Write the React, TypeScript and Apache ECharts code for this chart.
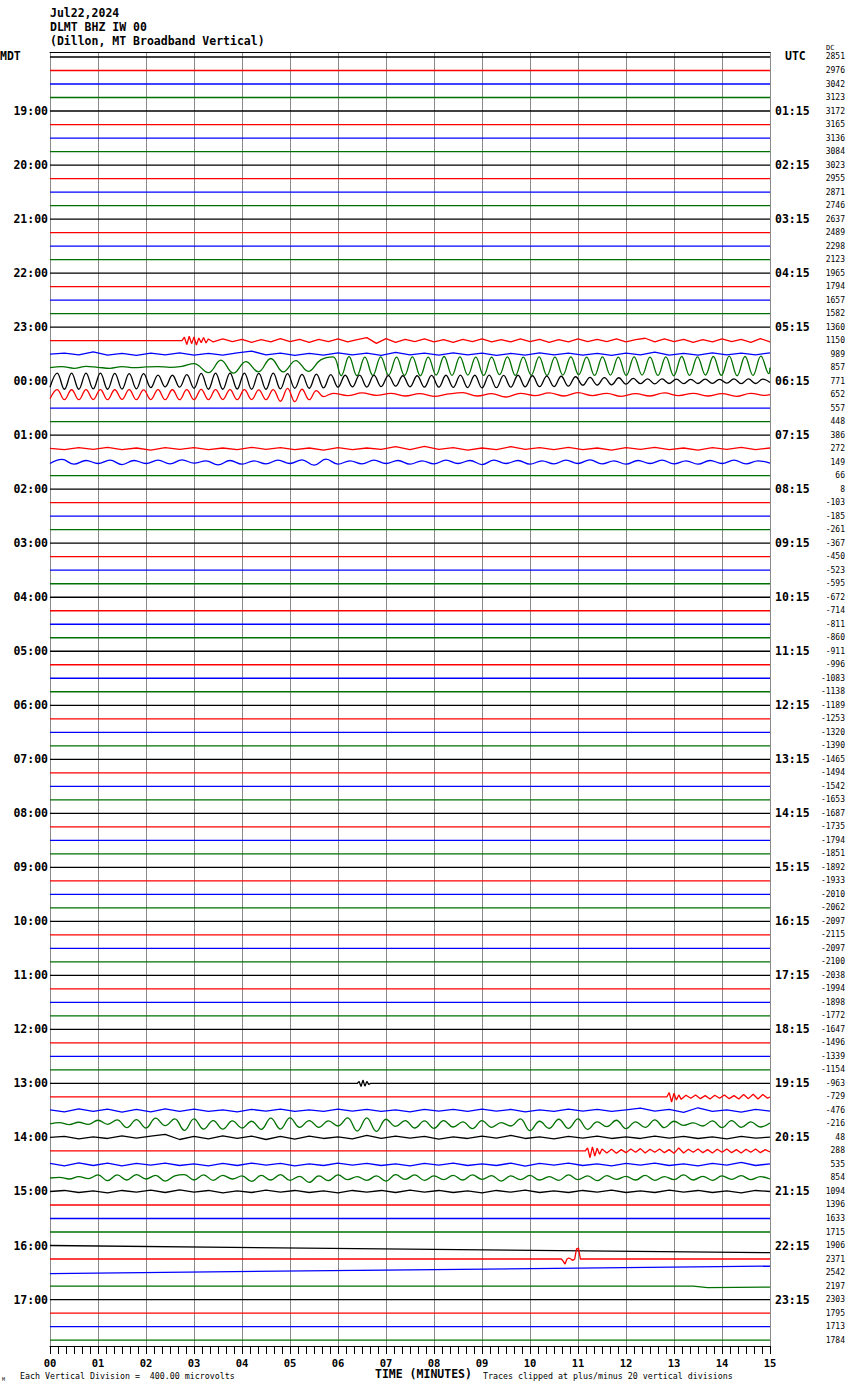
import React, { useEffect, useRef } from "react";
import * as echarts from "echarts";

// ---------- labels ----------
const minuteLabels = ["00", "01", "02", "03", "04", "05", "06", "07", "08", "09", "10", "11", "12", "13", "14", "15"];
const mdtLabels = ["19:00", "20:00", "21:00", "22:00", "23:00", "00:00", "01:00", "02:00", "03:00", "04:00", "05:00", "06:00",
  "07:00", "08:00", "09:00", "10:00", "11:00", "12:00", "13:00", "14:00", "15:00", "16:00", "17:00"];
const utcLabels = ["01:15", "02:15", "03:15", "04:15", "05:15", "06:15", "07:15", "08:15", "09:15", "10:15", "11:15", "12:15",
  "13:15", "14:15", "15:15", "16:15", "17:15", "18:15", "19:15", "20:15", "21:15", "22:15", "23:15"];
const dcValues = [2851, 2976, 3042, 3123, 3172, 3165, 3136, 3084, 3023, 2955, 2871, 2746, 2637, 2489, 2298, 2123,
  1965, 1794, 1657, 1582, 1360, 1150, 989, 857, 771, 652, 557, 448, 386, 272, 149, 66,
  8, -103, -185, -261, -367, -450, -523, -595, -672, -714, -811, -860, -911, -996, -1083, -1138,
  -1189, -1253, -1320, -1390, -1465, -1494, -1542, -1653, -1687, -1735, -1794, -1851, -1892, -1933, -2010, -2062,
  -2097, -2115, -2097, -2100, -2038, -1994, -1898, -1772, -1647, -1496, -1339, -1154, -963, -729, -476, -216,
  48, 288, 535, 854, 1094, 1396, 1633, 1715, 1906, 2371, 2542, 2197, 2303, 1795, 1713, 1784];
const traceColors = ["#000000", "#ff0000", "#0000ff", "#007000"];

// ---------- waveform samples (microvolts, + = up) ----------
const UV_PER_ROW = 400; // one vertical division between traces
const r21burst = [0, 100, -120, 130, -90, 110, -130, 80, -60, 90, -70, 50];
const r21noise = [-40, 50, -30, 40, -50, 30, -40, 60, -30, 40, -50, 40, -30, 50, -40, 30, 90, -80, 60, -50,
  40, -30, 50, -40, 30, -50, 40, -30, 50, -40, 30, -40, 50, -30, 40, -50, 30, -40, 50, -30,
  40, -30, 50, -40, 30, 70, -40, 50, -30, 40, -50, 30, -40, 50, -30, 40, -50, 60, -40];
const r22 = [0, 30, -20, 70, -30, 20, -40, 30, -20, 40, -30, 20, -30, 40, 90, -20, 30, -40, 20, -30,
  40, -20, 30, -40, 50, -20, 30, -30, 40, -20, 30, -40, 20, -30, 40, -20, 30, -30, 20, -40,
  30, -20, 60, -30, 20, -30, 40, -20, 30, -20, 40];
const r23a = [0, 30, -20, 40, 10, -20, 30, 0, 20, 30, 10, 40, 120];
const r23b = [-150, 220, -165, 175, -125, 270, -125, 210, -110, 230];
const r23c = [320, -240, 330, -240, 310, -230, 320, -220, 310, -230, 320, -240, 310, -220, 330, -230, 320, -220, 310, -230,
  310, -210, 320, -230, 310, -220, 320, -230, 310, -220, 320, -210, 310, -230, 320, -220, 310, -230, 320, -220,
  310, -230, 320, -240, 330, -230, 320, -220, 330, -230, 340, -240, 330, -230, 340, -180];
const r24 = [-180, 240, -240, 235, -240, 240, -230, 235, -240, 230, -235, 225, -230, 220, -190, 180, -170, 175, -180, 190,
  -210, 230, -240, 235, -240, 240, -235, 240, -240, 230, -240, 235, -230, 220, -210, 200, -210, 205, -200, 195,
  -180, 175, -170, 180, -175, 170, -160, 165, -150, 160, -170, 160, -175, 170, -180, 175, -185, 180, -190, 175,
  -200, 180, -195, 170, -180, 175, -170, 160, -165, 150, -160, 145, -150, 130, -120, 110, -115, 105, -110, 100,
  -90, 80, -75, 70, -80, 65, -70, 60, -75, 55, -70, 60, -65, 55, -60, 70, -75, 65, -70, 60, -40];
const r25a = [-120, 150, -150, 145, -150, 150, -145, 150, -150, 145, -140, 150, -150, 140, -145, 150, -150, 145, -150, 150,
  -150, 155, -150, 150, -145, 150, -150, 150, -145, 140, -150, 150, -195, 185, -205, 160, -150, 120, -60];
const r25b = [40, -30, 50, -20, 40, -40, 30, -50, 20, 60, -40, 30, -70, 40, -30, 50, -40, 60, -30, 40,
  -50, 30, -40, 50, -30, 40, -40, 30, -50, 40, -20];
const r29 = [10, -30, 30, -20, 40, -30, 20, -40, 30, -20, 30, -30, 20, -30, 40, -20, 30, -30, 20, -40,
  30, -30, 20, -20, 60, -30, 70, -20, 30, -40, 20, -30, 60, -20, 30, -30, 40, -30, 20, -40,
  30, -20, 40, -30, 20, -40, 30, -20, 40, -30, 20];
const r30 = [-40, 80, -60, 50, -40, 60, -70, 50, -40, 60, -50, 70, -30, 40, -80, 50, -60, 40, -50, 60,
  -40, 70, -90, 90, -60, 40, -50, 60, -40, 50, -60, 40, -50, 60, -40, 50, -70, 60, -40, 50,
  -60, 40, -50, 60, -40, 70, -50, 40, -60, 50, -40, 60, -50, 40, -60, 50, -40, 60, -50, 40, -30];
const r76 = [0, 60, -90, 100, -80, 60, -30, 0];
const r77burst = [0, 130, -150, 110, -90, 60, -70];
const r77noise = [50, -40, 60, -50, 40, -60, 50, -40, 60, -50, 40, -60, 70, -50, 80, -60, 70, -40];
const r78 = [20, -40, 50, -30, 40, -50, 30, -40, 50, -30, 40, -30, 20, -40, 30, -20, 40, -30, 20, -30,
  40, -20, 30, -30, 20, -40, 30, -20, 30, -30, 40, -20, 30, -40, 20, -30, 40, -20, 30, -30,
  20, 70, -20, 30, -60, 80, -30, 20, -50, 30, -20];
const r79 = [0, 40, -20, 50, -10, 110, -10, 120, -110, 130, -120, 170, -50, 150, -190, 150, -150, 100, -150, 90,
  -120, 80, -160, 170, -150, 180, -100, 100, -100, 90, -60, 180, -210, 180, -220, 140, -70, 100,
  -120, 90, -130, 100, -90, 60, -140, 100, -100, 40, -60, 150, -200, 80, -130, 140, -130, 150, -160, 60,
  -80, 110, -140, 60, -100, 120, -110, 80, -40, 30, -60, 90, -110, 100, -100, 60, -90, 30];
const r80 = [0, 30, -40, 20, -30, 50, -20, 40, 90, -60, 30, -40, 50, -30, 40, -60, 30, -50, 40, -30,
  20, -40, 60, -30, 40, -20, 30, -50, 20, -30, 40, -20, 60, -30, 20, -40, 30, -20, 40, -30,
  20, -30, 40, -20, 30, -30, 20, -40, 30, -20, 10];
const r81burst = [0, 90, -200, 120, -150, 80, -100, 60];
const r81noise = [-60, 50, -70, 40, -50, 60, -40, 70, -60, 50, -40, 60, -50, 40, -70, 90, -60, 50, -40, 60,
  -50, 40, -60, 50, -40, 60, -50, 40, -60, 50, -40, 60, -50, 40, -30];
const r82 = [30, -40, 50, -30, 40, -40, 30, -20, 40, -30, 20, -40, 30, -30, 40, -20, 30, -40, 20, -30,
  40, -20, 30, -30, 20, -40, 30, -20, 40, -30, 20, -30, 40, -50, 30, -20, 40, -30, 20, -40,
  30, -20, 40, -30, 20, -40, 30, -20, 60, -30, 20];
const r83 = [0, 20, -30, 40, -20, 90, -80, 90, -60, 100, -30, 80, -90, 60, 100, -60, 90, -70, 80, -30,
  60, -100, 80, -60, 100, -70, 50, -130, 60, -80, 90, -50, 40, -70, 60, -90, 100, -40,
  90, -70, 60, -50, 80, -60, 90, -40, 70, -90, 60, -50, 80, -60, 40, -70, 90, -50, 60, -80,
  70, -40, 50, -60, 80, -70, 40, -50, 90, -60, 50, -70, 60, -40, 70, -50, 40, -30];
const r84 = [0, 30, -30, 20, -40, 30, -20, 40, -30, 50, -20, 30, -40, 20, -30, 40, -20, 30, -30, 20,
  -40, 30, -20, 30, -30, 40, -20, 30, -30, 20, -40, 30, -20, 40, -30, 20, -30, 30, -20, 40,
  -30, 20, -30, 40, -20, 30, -30, 20, -40, 30, 0];
const r88 = [0, -210];
const r89 = [0, -60, -150, 0, 30, 0, -40, 0, 300, 320, 0, 0];
const r90 = [-30, 190];
const r91a = [0, 0];
const r91b = [-45, -30];

// row, start minute, sample step (minutes), samples
const waveTable = [
  { row: 21, t0: 2.75, dt: 0.05, v: r21burst },
  { row: 21, t0: 3.4, dt: 0.2, v: r21noise },
  { row: 22, t0: 0, dt: 0.3, v: r22 },
  { row: 23, t0: 0, dt: 0.25, v: r23a },
  { row: 23, t0: 3.3, dt: 0.26, v: r23b },
  { row: 23, t0: 5.9, dt: 0.165, v: r23c },
  { row: 24, t0: 0, dt: 0.15, v: r24 },
  { row: 25, t0: 0, dt: 0.15, v: r25a },
  { row: 25, t0: 5.9, dt: 0.3, v: r25b },
  { row: 29, t0: 0, dt: 0.3, v: r29 },
  { row: 30, t0: 0, dt: 0.25, v: r30 },
  { row: 76, t0: 6.4, dt: 0.04, v: r76 },
  { row: 77, t0: 12.85, dt: 0.05, v: r77burst },
  { row: 77, t0: 13.25, dt: 0.1, v: r77noise },
  { row: 78, t0: 0, dt: 0.3, v: r78 },
  { row: 79, t0: 0, dt: 0.2, v: r79 },
  { row: 80, t0: 0, dt: 0.3, v: r80 },
  { row: 81, t0: 11.15, dt: 0.05, v: r81burst },
  { row: 81, t0: 11.6, dt: 0.1, v: r81noise },
  { row: 82, t0: 0, dt: 0.3, v: r82 },
  { row: 83, t0: 0, dt: 0.2, v: r83 },
  { row: 84, t0: 0, dt: 0.3, v: r84 },
  { row: 88, t0: 0, dt: 15, v: r88 },
  { row: 89, t0: 10.65, dt: 0.04, v: r89 },
  { row: 90, t0: 0, dt: 15, v: r90 },
  { row: 91, t0: 0, dt: 13.4, v: r91a },
  { row: 91, t0: 13.7, dt: 1.3, v: r91b },
];
const smoothRows = [23, 24, 25, 30, 79, 83];

const MONO = '"DejaVu Sans Mono", "Liberation Mono", monospace';

function buildOption() {
  const nRows = dcValues.length;
  const yMin = -0.37;
  const yMax = nRows - 1 + 0.44;
  const series: any[] = [];
  for (let r = 0; r < nRows; r++) {
    const segs = waveTable.filter((w) => w.row === r);
    const pts: number[][] = [];
    if (segs.length === 0) {
      pts.push([0, r], [15, r]);
    } else {
      if (segs[0].t0 > 0) pts.push([0, r]);
      let lastT = 0;
      segs.forEach((s) => {
        s.v.forEach((val, k) => {
          const t = +(s.t0 + k * s.dt).toFixed(4);
          lastT = t;
          pts.push([t, r - val / UV_PER_ROW]);
        });
      });
      if (lastT < 15) pts.push([15, r]);
    }
    series.push({
      type: "line",
      data: pts,
      xAxisIndex: 0,
      yAxisIndex: 0,
      showSymbol: false,
      symbol: "none",
      silent: true,
      smooth: smoothRows.includes(r) ? 0.4 : false,
      lineStyle: { color: traceColors[r % 4], width: 1.3 },
      z: 3,
    });
  }
  const mdtRows = mdtLabels.map((_, i) => 4 * (i + 1));
  const utcRows = utcLabels.map((_, i) => 4 * (i + 1));
  const allRows = dcValues.map((_, i) => i);
  const hiddenAxis = {
    type: "value",
    inverse: true,
    min: yMin,
    max: yMax,
    axisLine: { show: false, onZero: false },
    axisTick: { show: false },
    splitLine: { show: false },
  };
  return {
    animation: false,
    backgroundColor: "#ffffff",
    grid: { left: 50, top: 52, width: 720, height: 1294, containLabel: false, outerBoundsMode: "none" },
    xAxis: [
      {
        type: "value",
        min: 0,
        max: 15,
        interval: 1,
        position: "bottom",
        axisLine: { show: true, onZero: false, lineStyle: { color: "#000", width: 1 } },
        axisTick: { show: true, length: 8, lineStyle: { color: "#000", width: 1 } },
        minorTick: { show: true, splitNumber: 6, length: 8, lineStyle: { color: "#000", width: 1 } },
        splitLine: { show: true, lineStyle: { color: "#8a8a8a", width: 1 } },
        axisLabel: {
          margin: 11,
          formatter: (v: number) => minuteLabels[Math.round(v)],
          fontFamily: MONO,
          fontWeight: "bold",
          fontSize: 10.5,
          color: "#000",
        },
      },
      {
        type: "value",
        min: 0,
        max: 15,
        position: "top",
        axisLine: { show: true, onZero: false, lineStyle: { color: "#000", width: 1 } },
        axisTick: { show: false },
        minorTick: { show: false },
        axisLabel: { show: false },
        splitLine: { show: false },
      },
    ],
    yAxis: [
      {
        ...hiddenAxis,
        position: "left",
        axisLabel: {
          customValues: mdtRows,
          formatter: (v: number) => mdtLabels[mdtRows.indexOf(Math.round(v))] ?? "",
          margin: 2,
          fontFamily: MONO,
          fontWeight: "bold",
          fontSize: 11.5,
          color: "#000",
        },
      },
      {
        ...hiddenAxis,
        position: "right",
        axisLabel: {
          customValues: utcRows,
          formatter: (v: number) => utcLabels[utcRows.indexOf(Math.round(v))] ?? "",
          margin: 5,
          fontFamily: MONO,
          fontWeight: "bold",
          fontSize: 11.5,
          color: "#000",
        },
      },
      {
        ...hiddenAxis,
        position: "right",
        offset: 75,
        axisLabel: {
          customValues: allRows,
          formatter: (v: number) => String(dcValues[Math.round(v)]),
          inside: true,
          margin: 0,
          fontFamily: MONO,
          fontSize: 8,
          color: "#000",
        },
      },
    ],
    graphic: [
      { type: "text", x: 50, y: 13, style: { text: "Jul22,2024", font: `bold 11.5px ${MONO}`, fill: "#000", textVerticalAlign: "middle" } },
      { type: "text", x: 50, y: 27, style: { text: "DLMT BHZ IW 00", font: `bold 11.5px ${MONO}`, fill: "#000", textVerticalAlign: "middle" } },
      { type: "text", x: 50, y: 41, style: { text: "(Dillon, MT Broadband Vertical)", font: `bold 11.5px ${MONO}`, fill: "#000", textVerticalAlign: "middle" } },
      { type: "text", x: 0, y: 56, style: { text: "MDT", font: `bold 11.5px ${MONO}`, fill: "#000", textVerticalAlign: "middle" } },
      { type: "text", x: 785, y: 56, style: { text: "UTC", font: `bold 11.5px ${MONO}`, fill: "#000", textVerticalAlign: "middle" } },
      { type: "text", x: 826, y: 48, style: { text: "DC", font: `7px ${MONO}`, fill: "#000", textVerticalAlign: "middle" } },
      { type: "text", x: 2, y: 1379, style: { text: "M", font: `5px ${MONO}`, fill: "#000", textVerticalAlign: "middle" } },
      { type: "text", x: 20, y: 1376, style: { text: "Each Vertical Division =  400.00 microvolts", font: `8.3px ${MONO}`, fill: "#000", textVerticalAlign: "middle" } },
      { type: "text", x: 375, y: 1374, style: { text: "TIME (MINUTES)", font: `bold 11.5px ${MONO}`, fill: "#000", textVerticalAlign: "middle" } },
      { type: "text", x: 483, y: 1376, style: { text: "Traces clipped at plus/minus 20 vertical divisions", font: `8.3px ${MONO}`, fill: "#000", textVerticalAlign: "middle" } },
    ],
    series,
  };
}

export default function App() {
  const ref = useRef<HTMLDivElement>(null);
  useEffect(() => {
    if (!ref.current) return;
    const chart = echarts.init(ref.current, undefined, { renderer: "svg" });
    chart.setOption(buildOption() as any);
    return () => chart.dispose();
  }, []);
  return (
    <div
      ref={ref}
      style={{ position: "absolute", left: 0, top: 0, width: 850, height: 1390, background: "#fff" }}
    />
  );
}
